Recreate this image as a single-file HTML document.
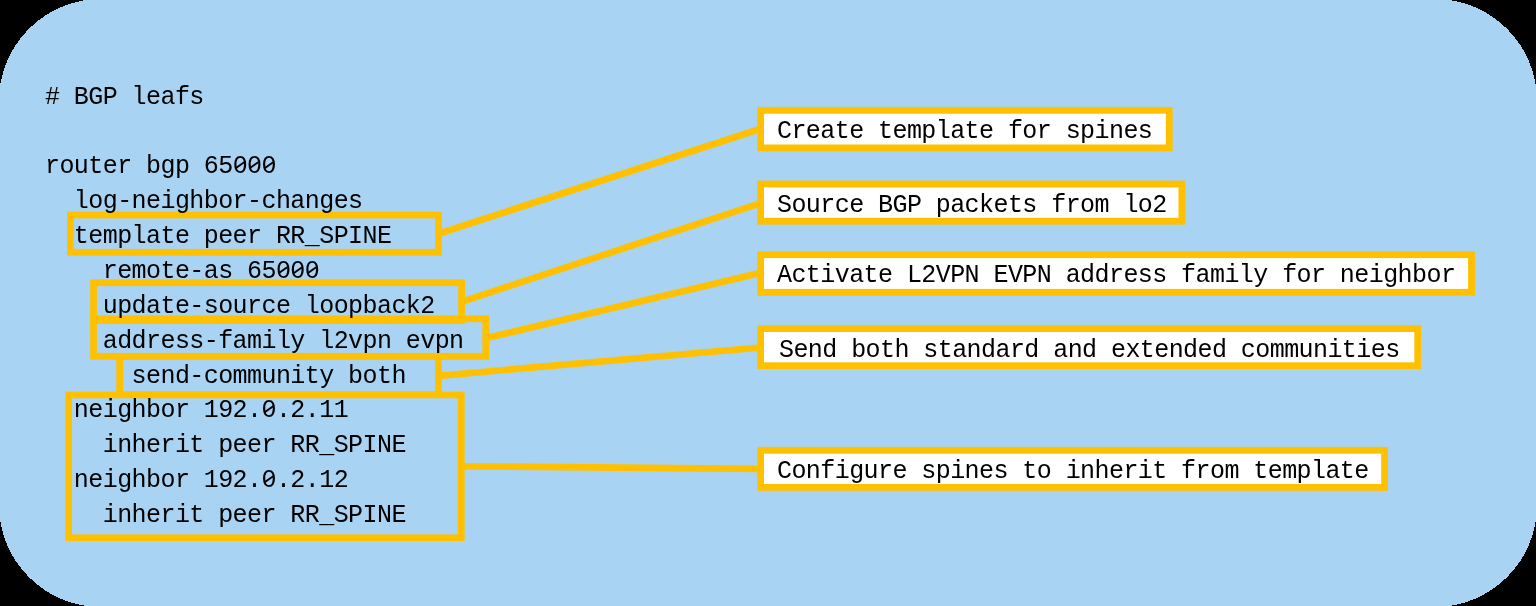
<!DOCTYPE html>
<html><head><meta charset="utf-8">
<style>
html,body{margin:0;padding:0;background:#000;width:1536px;height:606px;overflow:hidden}
.t{position:absolute;font-family:"Liberation Mono",monospace;font-size:25px;letter-spacing:-0.57px;line-height:30px;white-space:pre;color:#000;-webkit-font-smoothing:antialiased;will-change:transform}
.z{position:relative}
.z::before{content:"";position:absolute;left:5.2px;top:9.6px;width:4.4px;height:4.4px;background:#a9d3f3}
.z::after{content:"";position:absolute;left:2.4px;top:11.7px;width:10.4px;height:1.9px;background:#000;transform:rotate(-35deg)}
svg{position:absolute;left:0;top:0}
</style></head><body>
<svg width="1536" height="606" viewBox="0 0 1536 606">
<rect x="-1" y="-1" width="1538" height="608" rx="102" ry="102" fill="#a9d3f3" shape-rendering="crispEdges"/>
<g fill="none" stroke="#ffc000" stroke-width="6.7">
<line x1="438.40" y1="233.81" x2="760.60" y2="128.79"/>
<line x1="461.60" y1="301.82" x2="760.60" y2="203.08"/>
<line x1="485.70" y1="338.36" x2="760.60" y2="272.69"/>
<line x1="438.40" y1="375.80" x2="760.60" y2="347.50"/>
<line x1="461.25" y1="466.32" x2="760.60" y2="468.88"/>
<rect x="70.4" y="215.05" width="368.1" height="37.2"/>
<rect x="93.55" y="282.75" width="368.05" height="37.7"/>
<rect x="93.55" y="318.85" width="392.2" height="37.4"/>
<rect x="119.65" y="356.35" width="318.8" height="38.3"/>
<rect x="68.65" y="394.95" width="392.65" height="142.8"/>
</g>
<g fill="#fff" stroke="#ffc000" stroke-width="6.8">
<rect x="760.6" y="110.3" width="408.6" height="37.6"/>
<rect x="760.6" y="184" width="421.3" height="37.2"/>
<rect x="760.6" y="254.7" width="710.9" height="37.6"/>
<rect x="760.6" y="328.6" width="657.1" height="37.1"/>
<rect x="760.6" y="450.3" width="624" height="37.1"/>
</g>
</svg>
<div class="t" style="left:45.0px;top:82.80px"># BGP leafs</div>
<div class="t" style="left:45.0px;top:152.48px">router bgp 65<span class="z">0</span><span class="z">0</span><span class="z">0</span></div>
<div class="t" style="left:45.0px;top:187.32px">  log-neighbor-changes</div>
<div class="t" style="left:45.0px;top:222.16px">  template peer RR_SPINE</div>
<div class="t" style="left:45.0px;top:257.00px">    remote-as 65<span class="z">0</span><span class="z">0</span><span class="z">0</span></div>
<div class="t" style="left:45.0px;top:291.84px">    update-source loopback2</div>
<div class="t" style="left:45.0px;top:326.68px">    address-family l2vpn evpn</div>
<div class="t" style="left:45.0px;top:361.52px">      send-community both</div>
<div class="t" style="left:45.0px;top:396.36px">  neighbor 192.<span class="z">0</span>.2.11</div>
<div class="t" style="left:45.0px;top:431.20px">    inherit peer RR_SPINE</div>
<div class="t" style="left:45.0px;top:466.04px">  neighbor 192.<span class="z">0</span>.2.12</div>
<div class="t" style="left:45.0px;top:500.88px">    inherit peer RR_SPINE</div>
<div class="t" style="left:777.0px;top:116.70px">Create template for spines</div>
<div class="t" style="left:776.75px;top:191.10px">Source BGP packets from lo2</div>
<div class="t" style="left:777.0px;top:261.30px">Activate L2VPN EVPN address family for neighbor</div>
<div class="t" style="left:779.1px;top:335.70px">Send both standard and extended communities</div>
<div class="t" style="left:777.0px;top:456.90px">Configure spines to inherit from template</div>
</body></html>
